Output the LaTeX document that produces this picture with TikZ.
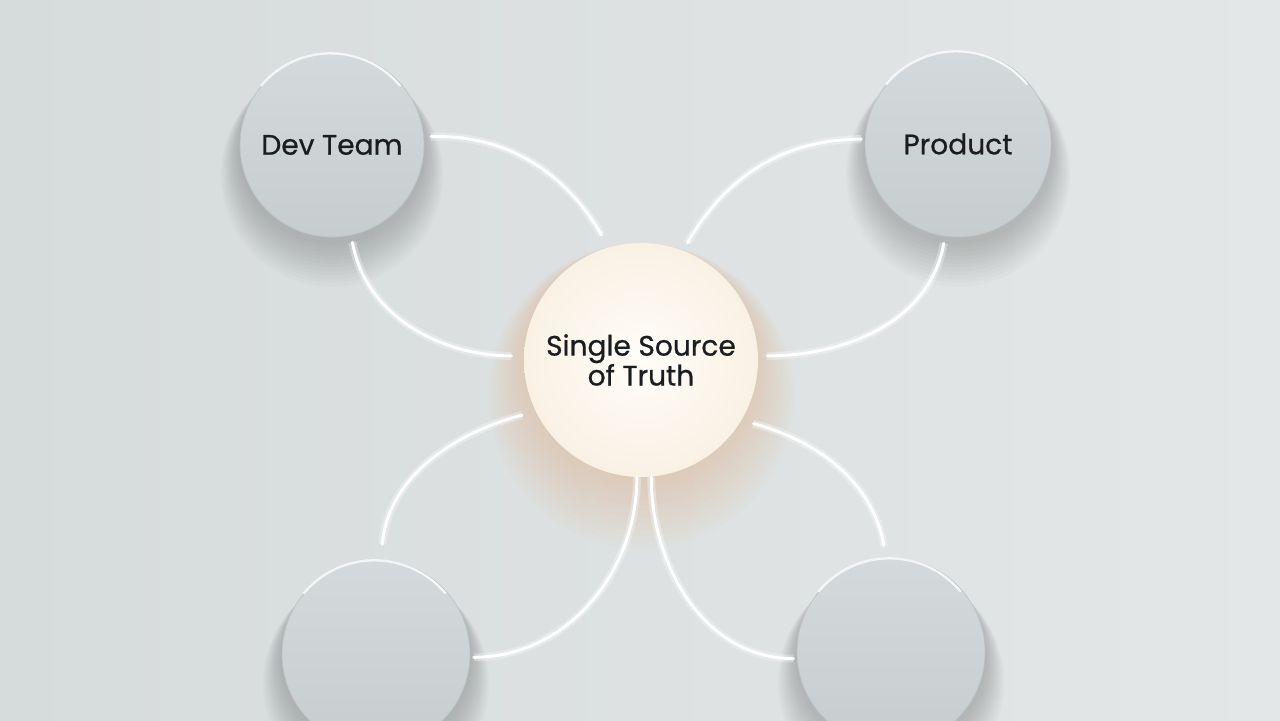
\documentclass[tikz,border=0pt]{standalone}
\usepackage{fontspec}
\setmainfont{Poppins}
\newfontfamily\labelfont{Poppins}[FakeBold=0.7]
\usetikzlibrary{positioning}

\definecolor{bgLeft}{HTML}{D6DBDB}
\definecolor{bgRight}{HTML}{E4E7E7}
\definecolor{discTop}{HTML}{D4DADB}
\definecolor{discBot}{HTML}{C6CDCE}
\definecolor{discEdge}{HTML}{BCC3C4}
\definecolor{hubIn}{HTML}{FFFDF9}
\definecolor{hubOut}{HTML}{F9F1E4}
\definecolor{glowWarm}{HTML}{DDAF78}
\definecolor{labelInk}{HTML}{1A1D20}

\tikzset{
	disc/.style={circle, minimum size=#1, inner sep=0pt, top color=discTop,
		bottom color=discBot, draw=discEdge, line width=0.4pt,
		font=\labelfont\fontsize{16}{17}\selectfont, text=labelInk},
	hub/.style={circle, minimum size=4.68cm, inner sep=0pt, inner color=hubIn,
		outer color=hubOut, align=center, font=\labelfont\fontsize{16}{17}\selectfont, text=labelInk},
	glowline/.style={draw=white, line width=1.7pt, line cap=round,
		preaction={draw=white, draw opacity=0.3, line width=4.5pt}},
}

\begin{document}
\begin{tikzpicture}[x=0.02cm,y=0.02cm]
	\useasboundingbox (0,0) rectangle (1280,720);
	\fill[left color=bgLeft, right color=bgRight] (0,0) rectangle (1280,720);
	\clip (0,0) rectangle (1280,720);

	% soft shadows under the discs
	\foreach \cx/\cy/\r in {332/575/92, 958/576/93, 376/66/94, 891/68/94}{
		\foreach \k in {1,...,12}
			\fill[black, opacity=0.014] (\cx,\cy-4-\k*2.2) circle[radius=\r+\k*1.6];
	}
	% warm glow under the hub
	\foreach \k in {1,...,12}
		\fill[glowWarm, opacity=0.03] (641,360-\k*3) circle[radius=114+\k*3.2];

	\node[hub] (ssot) at (641,360) {Single Source\\of Truth};
	\node[disc=3.68cm] (dev) at (332,575) {Dev Team};
	\node[disc=3.72cm] (prod) at (958,576) {Product};
	\node[disc=3.76cm] (bl) at (376,66) {};
	\node[disc=3.76cm] (br) at (891,68) {};

	% top rim highlights
	\foreach \n/\r in {dev/92, prod/93, bl/94, br/94}
		\draw[white, opacity=0.8, line width=1.3pt, line cap=round]
			(\n.140) arc[start angle=140, end angle=40, radius=\r-1.5];

	% links
	\draw[glowline, shorten <=4pt, shorten >=8pt] (dev.5) to[out=2, in=120] (ssot.106);
	\draw[glowline, shorten <=4pt, shorten >=7pt] (dev.-78) to[out=-80, in=180] (ssot.178);
	\draw[glowline, shorten <=2pt, shorten >=5pt] (prod.177) to[out=180, in=60] (ssot.69);
	\draw[glowline, shorten <=4pt, shorten >=5pt] (prod.-98) to[out=-100, in=0] (ssot.2);
	\draw[glowline, shorten <=8pt, shorten >=9pt] (ssot.206) to[out=195, in=85] (bl.87);
	\draw[glowline, shorten >=2pt] (ssot.268) to[out=270, in=0] (bl.-2);
	\draw[glowline, shorten >=2pt] (ssot.275) to[out=270, in=180] (br.184);
	\draw[glowline, shorten <=7pt, shorten >=7pt] (ssot.329) to[out=-15, in=100] (br.93);
\end{tikzpicture}
\end{document}
